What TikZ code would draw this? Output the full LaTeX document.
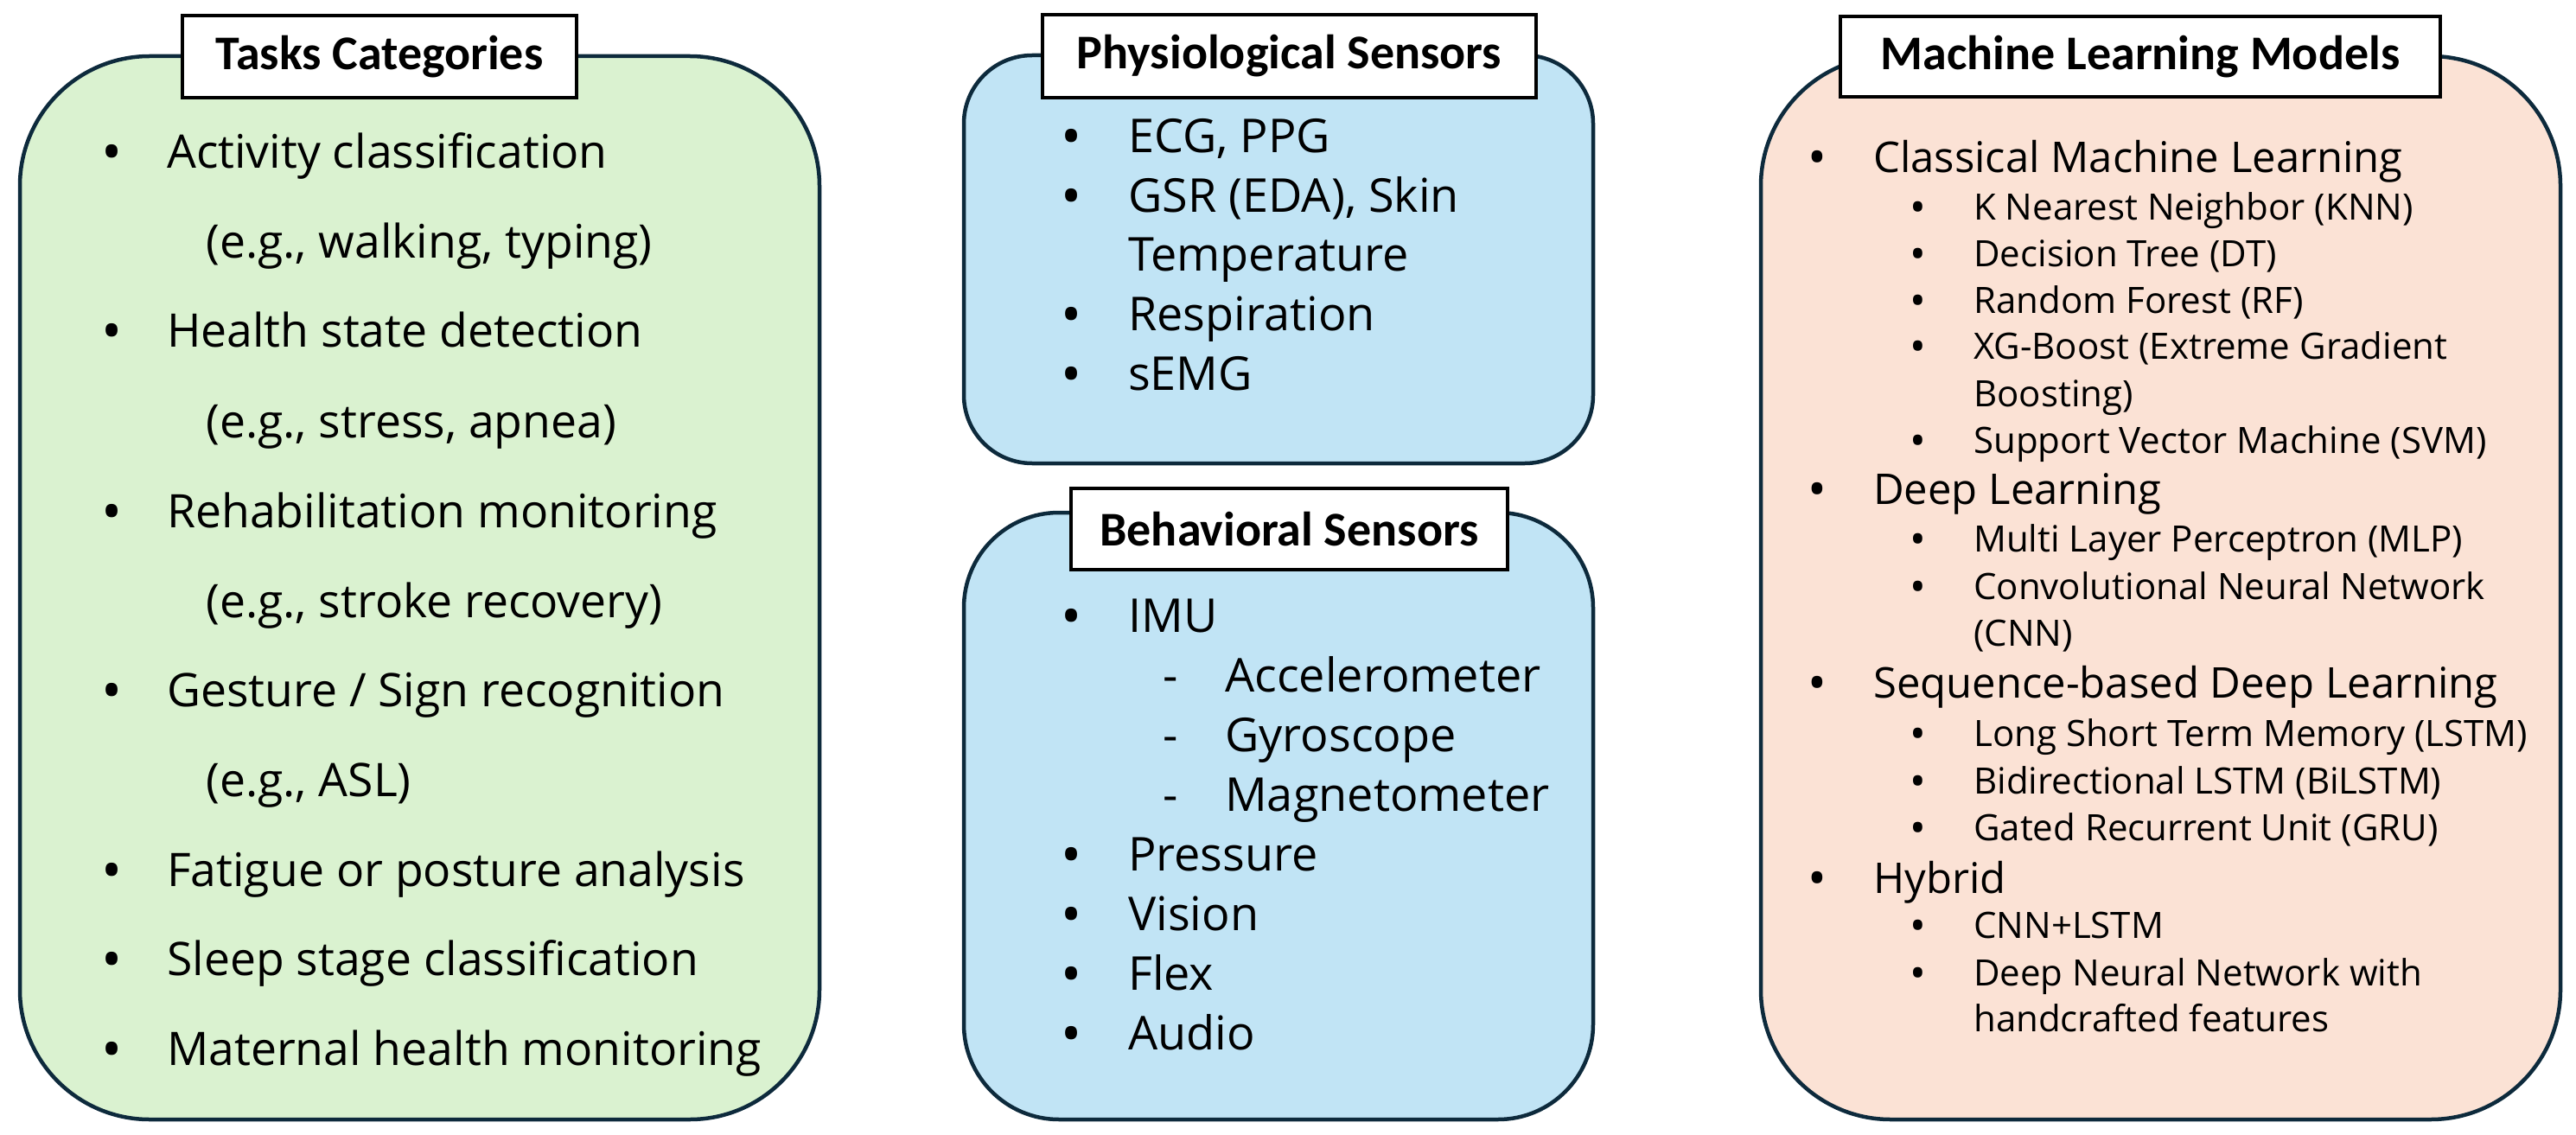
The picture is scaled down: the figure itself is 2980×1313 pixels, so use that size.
\documentclass[tikz,border=0pt]{standalone}
\usepackage{fontspec}
\setmainfont{Open Sans}
\newfontfamily\calfont{Carlito}
\definecolor{edgecol}{HTML}{0D2A3C}
\definecolor{greenfill}{HTML}{DAF2D0}
\definecolor{bluefill}{HTML}{C1E4F5}
\definecolor{peachfill}{HTML}{FBE2D5}
\begin{document}
\begin{tikzpicture}[x=1pt,y=-1pt,
  panel/.style={draw=edgecol, line width=4.5pt, inner sep=0pt},
  head/.style={draw=black, fill=white, line width=3.5pt, inner sep=0pt,
    font=\calfont\bfseries\fontsize{56}{60}\selectfont},
  txtL/.style={anchor=base west, inner sep=0pt, font=\fontsize{53.5}{60}\selectfont},
  dotL/.style={anchor=base, inner sep=0pt, yshift=-4pt, font=\fontsize{64}{70}\selectfont},
  txtM/.style={anchor=base west, inner sep=0pt, font=\fontsize{54}{60}\selectfont},
  dotM/.style={anchor=base, inner sep=0pt, yshift=-4pt, font=\fontsize{64}{70}\selectfont},
  dashM/.style={anchor=base, inner sep=0pt, font=\fontsize{54}{60}\selectfont},
  txtA/.style={anchor=base west, inner sep=0pt, font=\fontsize{49}{56}\selectfont},
  dotA/.style={anchor=base, inner sep=0pt, yshift=-3pt, font=\fontsize{58}{64}\selectfont},
  txtB/.style={anchor=base west, inner sep=0pt, font=\fontsize{42}{50}\selectfont},
  dotB/.style={anchor=base, inner sep=0pt, yshift=-3pt, font=\fontsize{50}{56}\selectfont}]
\useasboundingbox (0,0) rectangle (2980,1313);
% panels
\node[panel, fill=greenfill, minimum width=925pt, minimum height=1230pt, rounded corners=150pt] (tasks) at (485.5,680) {};
\node[panel, fill=bluefill, minimum width=728pt, minimum height=472pt, rounded corners=79pt] (phys) at (1479,300) {};
\node[panel, fill=bluefill, minimum width=728pt, minimum height=702pt, rounded corners=110pt] (behav) at (1479,944) {};
\node[panel, fill=peachfill, minimum width=925pt, minimum height=1230pt, rounded corners=150pt] (ml) at (2499.5,680) {};
% titles
\node[head, minimum width=456pt, minimum height=95pt] (tasksT) at (439,65.5) {Tasks Categories};
\node[head, minimum width=571pt, minimum height=96pt] (physT) at (1491.5,65) {Physiological Sensors};
\node[head, minimum width=505pt, minimum height=94pt] (behavT) at (1491.5,612) {Behavioral Sensors};
\node[head, minimum width=694pt, minimum height=93pt] (mlT) at (2476,65.5) {Machine Learning Models};
% left column
\node[dotL] (td1) at (130,195) {•};
\node[txtL] (t1) at (193,195) {Activity classification};
\node[txtL] (t2) at (238,299) {(e.g., walking, typing)};
\node[dotL] (td3) at (130,402) {•};
\node[txtL] (t3) at (193,402) {Health state detection};
\node[txtL] (t4) at (238,506) {(e.g., stress, apnea)};
\node[dotL] (td5) at (130,610) {•};
\node[txtL] (t5) at (193,610) {Rehabilitation monitoring};
\node[txtL] (t6) at (238,714) {(e.g., stroke recovery)};
\node[dotL] (td7) at (130,817) {•};
\node[txtL] (t7) at (193,817) {Gesture / Sign recognition};
\node[txtL] (t8) at (238,921) {(e.g., ASL)};
\node[dotL] (td9) at (130,1025) {•};
\node[txtL] (t9) at (193,1025) {Fatigue or posture analysis};
\node[dotL] (td10) at (130,1128) {•};
\node[txtL] (t10) at (193,1128) {Sleep stage classification};
\node[dotL] (td11) at (130,1232) {•};
\node[txtL] (t11) at (193,1232) {Maternal health monitoring};
% physiological
\node[dotM] (pd1) at (1240,177) {•};
\node[txtM] (p1) at (1305,177) {ECG, PPG};
\node[dotM] (pd2) at (1240,245.5) {•};
\node[txtM] (p2) at (1305,245.5) {GSR (EDA), Skin};
\node[txtM] (p3) at (1305,314) {Temperature};
\node[dotM] (pd4) at (1240,382.5) {•};
\node[txtM] (p4) at (1305,382.5) {Respiration};
\node[dotM] (pd5) at (1240,451) {•};
\node[txtM] (p5) at (1305,451) {sEMG};
% behavioral
\node[dotM] (bd1) at (1240,731) {•};
\node[txtM] (b1) at (1305,731) {IMU};
\node[dashM] (bd2) at (1354,800) {-};
\node[txtM] (b2) at (1417,800) {Accelerometer};
\node[dashM] (bd3) at (1354,869) {-};
\node[txtM] (b3) at (1417,869) {Gyroscope};
\node[dashM] (bd4) at (1354,938) {-};
\node[txtM] (b4) at (1417,938) {Magnetometer};
\node[dotM] (bd5) at (1240,1007) {•};
\node[txtM] (b5) at (1305,1007) {Pressure};
\node[dotM] (bd6) at (1240,1076) {•};
\node[txtM] (b6) at (1305,1076) {Vision};
\node[dotM] (bd7) at (1240,1145) {•};
\node[txtM] (b7) at (1305,1145) {Flex};
\node[dotM] (bd8) at (1240,1214) {•};
\node[txtM] (b8) at (1305,1214) {Audio};
% machine learning
\node[dotA] (md1) at (2102,200) {•};
\node[txtA] (m1) at (2167,200) {Classical Machine Learning};
\node[dotB] (md2) at (2219,255) {•};
\node[txtB] (m2) at (2283,255) {K Nearest Neighbor (KNN)};
\node[dotB] (md3) at (2219,309) {•};
\node[txtB] (m3) at (2283,309) {Decision Tree (DT)};
\node[dotB] (md4) at (2219,363) {•};
\node[txtB] (m4) at (2283,363) {Random Forest (RF)};
\node[dotB] (md5) at (2219,416) {•};
\node[txtB] (m5) at (2283,416) {XG-Boost (Extreme Gradient};
\node[txtB] (m6) at (2283,470) {Boosting)};
\node[dotB] (md7) at (2219,524) {•};
\node[txtB] (m7) at (2283,524) {Support Vector Machine (SVM)};
\node[dotA] (md8) at (2102,583) {•};
\node[txtA] (m8) at (2167,583) {Deep Learning};
\node[dotB] (md9) at (2219,638) {•};
\node[txtB] (m9) at (2283,638) {Multi Layer Perceptron (MLP)};
\node[dotB] (md10) at (2219,693) {•};
\node[txtB] (m10) at (2283,693) {Convolutional Neural Network};
\node[txtB] (m11) at (2283,747) {(CNN)};
\node[dotA] (md12) at (2102,807) {•};
\node[txtA] (m12) at (2167,807) {Sequence-based Deep Learning};
\node[dotB] (md13) at (2219,863) {•};
\node[txtB] (m13) at (2283,863) {Long Short Term Memory (LSTM)};
\node[dotB] (md14) at (2219,918) {•};
\node[txtB] (m14) at (2283,918) {Bidirectional LSTM (BiLSTM)};
\node[dotB] (md15) at (2219,972) {•};
\node[txtB] (m15) at (2283,972) {Gated Recurrent Unit (GRU)};
\node[dotA] (md16) at (2102,1033) {•};
\node[txtA] (m16) at (2167,1033) {Hybrid};
\node[dotB] (md17) at (2219,1085) {•};
\node[txtB] (m17) at (2283,1085) {CNN+LSTM};
\node[dotB] (md18) at (2219,1140) {•};
\node[txtB] (m18) at (2283,1140) {Deep Neural Network with};
\node[txtB] (m19) at (2283,1193) {handcrafted features};
\end{tikzpicture}
\end{document}
